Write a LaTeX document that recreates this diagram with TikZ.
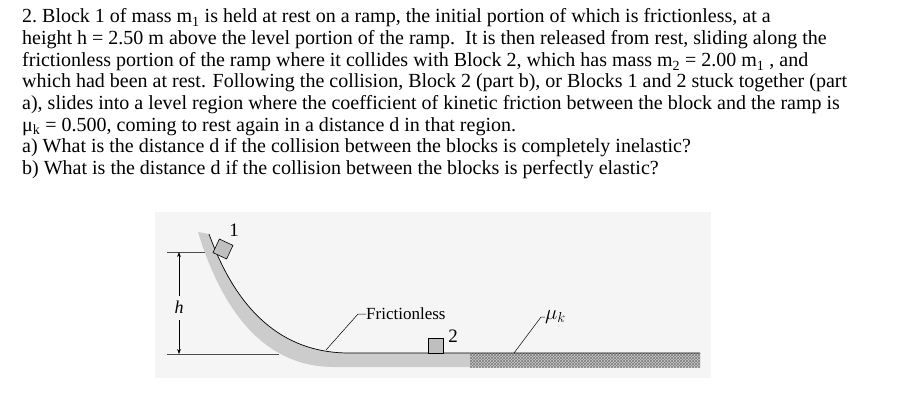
\documentclass[tikz,border=0pt]{standalone}
\usepackage{fontspec}
\setmainfont{Liberation Serif}
\usetikzlibrary{patterns,arrows.meta}
\begin{document}
\begin{tikzpicture}[x=1pt,y=-1pt,
  txt/.style={anchor=west,inner sep=0pt,font=\fontsize{20}{22}\selectfont},
  lbl/.style={inner sep=0pt,font=\fontsize{17}{19}\selectfont},
  lead/.style={line width=0.5pt}]
\useasboundingbox (0,0) rectangle (904,412);
\node[txt] (l1) at (22,18) {2.\ Block 1 of mass m\textsubscript{1} is held at rest on a ramp, the initial portion of which is frictionless, at a};
\node[txt] (l2) at (22,40) {height h = 2.50 m above the level portion of the ramp.\ \ It is then released from rest, sliding along the};
\node[txt] (l3) at (22,62) {frictionless portion of the ramp where it collides with Block 2, which has mass m\textsubscript{2} = 2.00 m\textsubscript{1} , and};
\node[txt] (l4) at (22,83) {which had been at rest. Following the collision, Block 2 (part b), or Blocks 1 and 2 stuck together (part};
\node[txt] (l5) at (22,105) {a), slides into a level region where the coefficient of kinetic friction between the block and the ramp is};
\node[txt] (l6) at (22,127) {μ\textsubscript{k} = 0.500, coming to rest again in a distance d in that region.};
\node[txt] (l7) at (22,148) {a) What is the distance d if the collision between the blocks is completely inelastic?};
\node[txt] (l8) at (22,170) {b) What is the distance d if the collision between the blocks is perfectly elastic?};
% panel
\fill[black!4] (155,212) rectangle (711,378);
% ramp
\fill[black!20] (209,234) .. controls (240,320) and (290,353) .. (349,353) -- (700,353) -- (700,367) -- (334,367) .. controls (270,367) and (225,320) .. (198,232) -- cycle;
\fill[pattern=crosshatch dots, pattern color=black!85] (470,353) rectangle (700,367);
\fill[pattern=crosshatch, pattern color=black!50] (470,353) rectangle (700,367);
\draw[line width=0.7pt] (209,234) .. controls (240,320) and (290,353) .. (349,353) -- (700,353);
% h
\draw[lead,black!70] (167,252) -- (205,252);
\draw[lead,black!70] (167,354) -- (279,354);
\draw[lead,-{Stealth[length=5pt]}] (179,296) -- (179,252);
\draw[lead,-{Stealth[length=5pt]}] (179,320) -- (179,354);
\node[lbl,font=\fontsize{18}{20}\selectfont\itshape] (h) at (179,307) {h};
% block 1
\draw[fill=black!25,line width=0.6pt,rotate around={-25:(223,249)}] (215.5,241.5) rectangle (230.5,256.5);
\node[lbl,font=\fontsize{19}{20}\selectfont] (b1) at (234,230) {1};
% block 2
\node[draw,fill=black!25,line width=0.6pt,minimum size=15pt,inner sep=0pt] (blk2) at (436,345.5) {};
\node[lbl,font=\fontsize{19}{20}\selectfont] (b2) at (453,336) {2};
% labels
\node[lbl,anchor=west] (fr) at (366,314) {Frictionless};
\coordinate (frp) at (326,350);
\draw[lead] (fr.west) -- ++(-8,0) -- (frp);
\node[lbl,anchor=west,font=\fontsize{21}{22}\selectfont] (mu) at (545,317) {$\mu_k$};
\coordinate (mup) at (514,353);
\draw[lead] (mu.west) -- ++(-4,0) -- (mup);
\end{tikzpicture}
\end{document}
